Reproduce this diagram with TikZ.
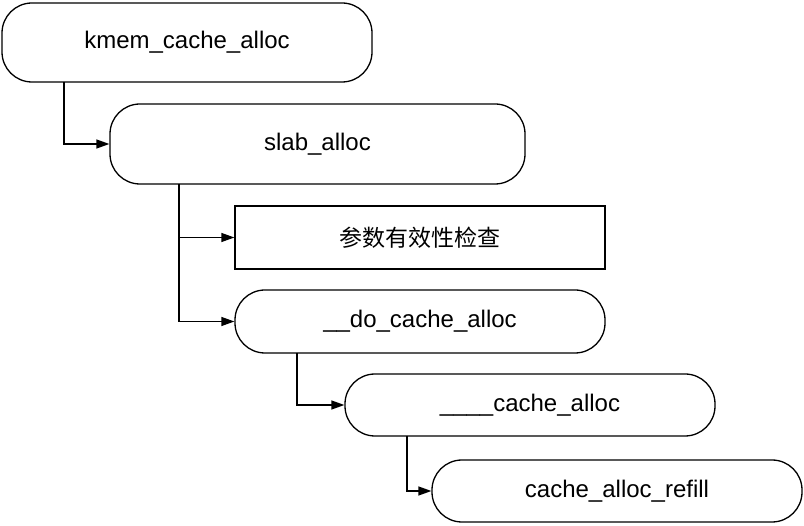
\documentclass[tikz,border=0pt]{standalone}
\usepackage{fontspec}
\setmainfont{Liberation Sans}
\newfontfamily\cjk{Noto Sans CJK SC}
\usetikzlibrary{arrows.meta}
\begin{document}
\begin{tikzpicture}[x=1pt,y=-1pt,
  rbox/.style={draw,line width=1.3pt,rounded corners=30pt,minimum width=370pt,minimum height=62pt,inner sep=0pt,font=\fontsize{24}{28}\selectfont},
  sbox/.style={draw,line width=1.3pt,minimum width=370pt,minimum height=63pt,inner sep=0pt,font=\cjk\fontsize{23}{28}\selectfont},
  conn/.style={line width=1.3pt,-{Triangle[length=13pt,width=9pt]}}]
\useasboundingbox (0,0) rectangle (804,526);
\node[rbox,minimum height=79pt] (a) at (187,42.5) {kmem\_cache\_alloc};
\node[rbox,minimum width=415pt,minimum height=80pt] (b) at (317.5,144) {slab\_alloc};
\node[sbox] (c) at (420,237.5) {参数有效性检查};
\node[rbox,minimum height=63pt] (d) at (420,321.5) {\_\_do\_cache\_alloc};
\node[rbox] (e) at (530,405) {\_\_\_\_cache\_alloc};
\node[rbox] (f) at (617,491) {cache\_alloc\_refill};
\coordinate (pa) at (64,82);
\coordinate (pb) at (179,184);
\coordinate (pd) at (297,353);
\coordinate (pe) at (407,436);
\draw[conn] (pa) |- (b.west);
\draw[conn] (pb) |- (c.west);
\draw[conn] (pb) |- (d.west);
\draw[conn] (pd) |- (e.west);
\draw[conn] (pe) |- (f.west);
\end{tikzpicture}
\end{document}
